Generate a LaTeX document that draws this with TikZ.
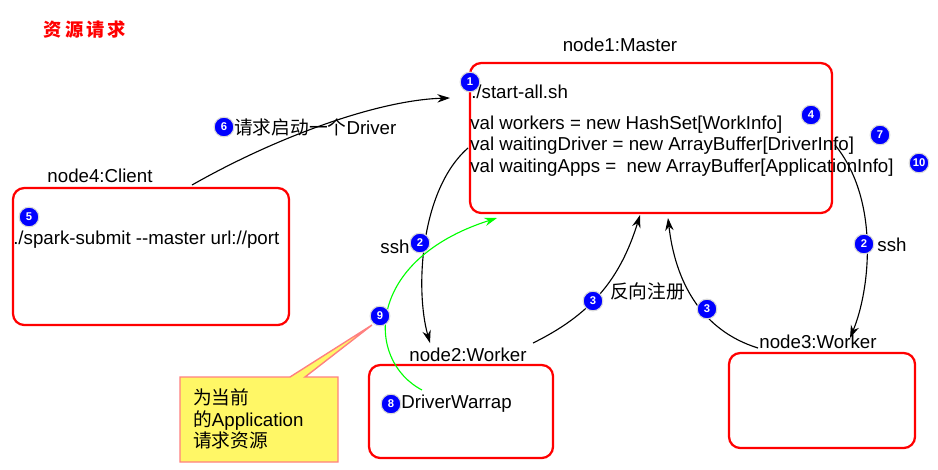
\documentclass[tikz,border=0pt]{standalone}
\usepackage{fontspec}
\setmainfont{Liberation Sans}
\newfontfamily\cjk{Noto Sans CJK SC}
\usetikzlibrary{arrows.meta}
\tikzset{
  box/.style={draw=red, line width=1.6pt, rounded corners=8pt},
  badge/.style={circle, fill=blue, draw=gray!30, line width=0.8pt, inner sep=0pt,
    minimum size=14pt, text=white, font=\bfseries\fontsize{8}{8}\selectfont},
  lbl/.style={font=\fontsize{13.3}{15.5}\selectfont},
  flow/.style={thick, -{Stealth[length=9pt,width=6pt]}},
}
\begin{document}
\begin{tikzpicture}[x=0.025cm, y=-0.025cm, lbl]
  \useasboundingbox (0,0) rectangle (938,469);
  \node[text=red, font=\cjk\bfseries\fontsize{13}{15}\selectfont] (title) at (85,30) {资\,源\,请\,求};
  % boxes
  \draw[box] (470,63) rectangle (832,213);
  \draw[box] (13,188) rectangle (289,325);
  \draw[box] (369,365) rectangle (553,458);
  \draw[box] (729,353) rectangle (915,448);
  \node (m) at (620,45) {node1:Master};
  \node (c) at (100,176) {node4:Client};
  \node (w2) at (468,355) {node2:Worker};
  \node (w3) at (818,342) {node3:Worker};
  % master text
  \node[right, inner sep=0pt] (sa) at (471,92) {./start-all.sh};
  \node[right, inner sep=0pt, align=left] (mt) at (470,146)
    {val workers = new HashSet[WorkInfo]\\val waitingDriver = new ArrayBuffer[DriverInfo]\\val waitingApps =~ new ArrayBuffer[ApplicationInfo]};
  \node[right, inner sep=0pt] (sub) at (13,240) {./spark-submit {-}{-}master url://port};
  \node[right, inner sep=0pt] (dw) at (401,404) {DriverWarrap};
  % coordinates
  \coordinate (c1) at (192,185);
  \coordinate (m1) at (450,98);
  \coordinate (m2) at (468,148);
  \coordinate (m3) at (835,145);
  \coordinate (mb) at (640,215);
  \coordinate (mb2) at (668,218);
  \coordinate (mg) at (497,218);
  \coordinate (w2t) at (430,343);
  \coordinate (w2r) at (533,343);
  \coordinate (w3t) at (850,338);
  \coordinate (w3l) at (758,348);
  \coordinate (g0) at (422,390);
  % connectors
  \draw[flow] (c1) .. controls (280,135) and (380,100) .. (m1);
  \draw[flow] (m2) .. controls (420,190) and (415,290) .. (w2t);
  \draw[flow] (m3) .. controls (880,200) and (870,290) .. (w3t);
  \draw[flow] (w2r) .. controls (590,315) and (620,280) .. (mb);
  \draw[flow] (w3l) .. controls (700,330) and (675,280) .. (mb2);
  \draw[green, thick, -{Stealth[length=9pt,width=6pt]}] (g0) .. controls (365,360) and (365,260) .. (mg);
  % callout
  \draw[red!50, fill=yellow!60, line width=1pt]
    (180,377) -- (290,377) -- (372,325) -- (305,377) -- (338,377) -- (338,462) -- (180,462) -- cycle;
  \node[right, align=left, inner sep=0pt] (note) at (193,419) {{\cjk 为当前}\\{\cjk 的}Application\\{\cjk 请求资源}};
  % labels
  \node[right, inner sep=0pt] (l6) at (234,127) {{\cjk 请求启动一个}Driver};
  \node (ssh1) at (395,247) {ssh};
  \node (ssh2) at (892,245) {ssh};
  \node[right, inner sep=0pt] (fx) at (610,291) {\cjk 反向注册};
  % badges
  \foreach \n/\x/\y in {1/470/82, 4/811/115, 7/880/135, 10/919/163, 5/29/217, 6/224/127,
      2/420/243, 2/864/244, 3/593/301, 3/707/309, 9/380/316, 8/391/404}
    \node[badge] at (\x,\y) {\n};
\end{tikzpicture}
\end{document}
